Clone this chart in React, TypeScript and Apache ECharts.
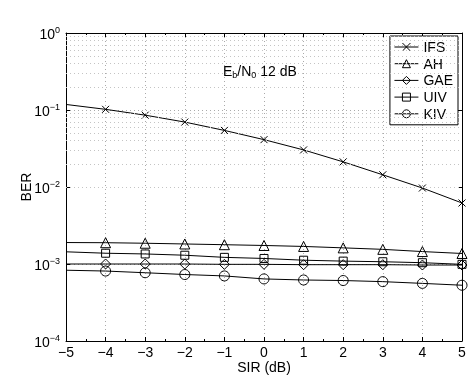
import React, { useEffect, useRef } from 'react';
import * as echarts from 'echarts';

const sir = [-5, -4, -3, -2, -1, 0, 1, 2, 3, 4, 5];
const ifs = [0.118, 0.102, 0.0857, 0.0697, 0.0543, 0.0412, 0.0303, 0.0212, 0.0144, 0.0097, 0.0062];
const ah = [0.0019, 0.00189, 0.00186, 0.00182, 0.00178, 0.00174, 0.00169, 0.00162, 0.00155, 0.00145, 0.00137];
const gae = [0.001, 0.001, 0.001, 0.001, 0.00099, 0.00099, 0.00098, 0.00098, 0.00098, 0.00097, 0.00097];
const uiv = [0.00144, 0.00138, 0.00135, 0.0013, 0.00122, 0.00118, 0.00112, 0.00109, 0.00107, 0.00104, 0.00099];
const kiv = [0.00083, 0.00081, 0.00077, 0.00073, 0.0007, 0.00064, 0.00062, 0.00061, 0.00059, 0.00056, 0.00053];
const seriesNames = ['IFS', 'AH', 'GAE', 'UIV', 'KIV'];
const minorMultipliers = [2, 3, 4, 5, 6, 7, 8, 9];
const decades = [-4, -3, -2, -1];

const FONT = 'Liberation Sans, Arial, Helvetica, sans-serif';

export default function App() {
  const ref = useRef<HTMLDivElement>(null);
  useEffect(() => {
    document.body.style.margin = '0';
    const chart = echarts.init(ref.current!, undefined, { renderer: 'svg' });
    const symbols = [
      'path://M0,0L10,10M0,10L10,0',
      'triangle',
      'diamond',
      'rect',
      'circle',
    ];
    const sizes = [7, 10, 10, 8, 10];
    const values = [ifs, ah, gae, uiv, kiv];
    const minorLines: any[] = [];
    decades.forEach((d) => minorMultipliers.forEach((m) => minorLines.push({ yAxis: m * Math.pow(10, d) })));
    const mk = (name: string, i: number) => ({
      name,
      type: 'line',
      symbol: symbols[i],
      symbolSize: sizes[i],
      showAllSymbol: true,
      xAxisIndex: 0,
      yAxisIndex: 0,
      lineStyle: { color: '#000', width: 1 },
      itemStyle: { color: 'rgba(255,255,255,0)', borderColor: '#000', borderWidth: 1 },
      data: sir.map((x, j) => (j === 0 ? { value: [x, values[i][j]], symbol: 'none' } : [x, values[i][j]])),
      z: 3,
    });
    const sup = (v: number) => {
      const e = Math.round(Math.log10(v));
      return '{b|10}{s|' + (e < 0 ? '\u2212' + -e : String(e)) + '}';
    };
    chart.setOption({
      animation: false,
      textStyle: { fontFamily: FONT, color: '#000' },
      grid: { left: 66, right: 12, top: 33, bottom: 36, containLabel: false },
      legend: {
        data: seriesNames,
        right: 16,
        top: 36,
        orient: 'vertical',
        backgroundColor: '#fff',
        borderColor: '#000',
        borderWidth: 1,
        borderRadius: 0,
        padding: [4, 5, 4, 4],
        itemWidth: 24,
        itemHeight: 10,
        itemGap: 2.7,
        lineStyle: { color: '#000', width: 1 },
        itemStyle: { color: 'rgba(255,255,255,0)', borderColor: '#000', borderWidth: 1 },
        textStyle: { fontSize: 14, lineHeight: 14, fontFamily: FONT, color: '#000' },
      },
      xAxis: [
        {
          type: 'value',
          min: -5,
          max: 5,
          interval: 1,
          name: 'SIR (dB)',
          nameLocation: 'middle',
          nameGap: 19,
          nameMoveOverlap: false,
          nameTextStyle: { fontSize: 14, lineHeight: 14, fontFamily: FONT, color: '#000', verticalAlign: 'top' },
          axisLine: { onZero: false, lineStyle: { color: '#000', width: 1 } },
          axisTick: { inside: true, length: 4, lineStyle: { color: '#000' } },
          minorTick: { show: true, splitNumber: 2, length: 2, lineStyle: { color: '#000' } },
          axisLabel: {
            fontSize: 14,
            lineHeight: 14,
            fontFamily: FONT,
            color: '#000',
            margin: 4,
            formatter: (v: number) => (v < 0 ? '\u2212' + -v : String(v)),
          },
          splitLine: { show: true, lineStyle: { type: [1, 3], color: '#aaa', width: 1 } },
        },
        {
          type: 'value',
          position: 'top',
          min: -5,
          max: 5,
          interval: 1,
          axisLine: { onZero: false, lineStyle: { color: '#000', width: 1 } },
          axisTick: { inside: true, length: 4, lineStyle: { color: '#000' } },
          minorTick: { show: true, splitNumber: 2, length: 2, lineStyle: { color: '#000' } },
          axisLabel: { show: false },
          splitLine: { show: false },
        },
      ],
      yAxis: [
        {
          type: 'log',
          logBase: 10,
          min: 1e-4,
          max: 1,
          name: 'BER',
          nameLocation: 'middle',
          nameGap: 33,
          nameMoveOverlap: false,
          nameTextStyle: { fontSize: 14, fontFamily: FONT, color: '#000' },
          axisLine: { show: true, onZero: false, lineStyle: { color: '#000', width: 1 } },
          axisTick: { inside: true, length: 4, lineStyle: { color: '#000' } },
          axisLabel: {
            margin: 6,
            formatter: sup,
            rich: {
              b: { fontSize: 14, fontFamily: FONT, color: '#000', verticalAlign: 'bottom' },
              s: { fontSize: 9, fontFamily: FONT, color: '#000', verticalAlign: 'top', padding: [0, 0, 7, 0] },
            },
          },
          splitLine: { show: true, lineStyle: { type: [1, 3], color: '#aaa', width: 1 } },
        },
        {
          type: 'log',
          logBase: 10,
          min: 1e-4,
          max: 1,
          position: 'right',
          axisLine: { show: true, onZero: false, lineStyle: { color: '#000', width: 1 } },
          axisTick: { inside: true, length: 4, lineStyle: { color: '#000' } },
          axisLabel: { show: false },
          splitLine: { show: false },
        },
      ],
      graphic: [
        {
          type: 'text',
          left: 223,
          top: 64,
          style: {
            text: '{n|E}{sub|b}{n|/N}{sub|0}{n| 12 dB}',
            rich: {
              n: { fontSize: 14, fontFamily: FONT, fill: '#000', verticalAlign: 'top' },
              sub: { fontSize: 9, fontFamily: FONT, fill: '#000', verticalAlign: 'bottom', padding: [6, 0, 0, 0] },
            },
          },
          z: 10,
        },
      ],
      series: [
        {
          name: '_minor',
          type: 'line',
          data: [],
          silent: true,
          markLine: {
            silent: true,
            symbol: 'none',
            label: { show: false },
            lineStyle: { type: [1, 3], color: '#c4c4c4', width: 1 },
            data: minorLines,
          },
        },
        ...seriesNames.map(mk),
      ],
    });
    return () => chart.dispose();
  }, []);
  return <div ref={ref} style={{ position: 'fixed', left: 0, top: 0, width: 474, height: 379 }} />;
}
